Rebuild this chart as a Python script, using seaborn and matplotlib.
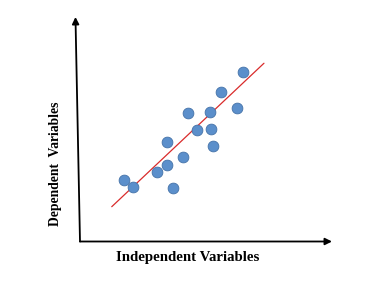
import matplotlib
matplotlib.use("Agg")
import matplotlib.pyplot as plt
import seaborn as sns
import pandas as pd

# Data (arbitrary units)
x_vals = [1.75, 2.12, 3.07, 3.46, 3.46, 3.70, 4.10, 4.29, 4.65, 5.17, 5.21, 5.29, 5.61, 6.23, 6.47]
y_vals = [2.74, 2.41, 3.08, 3.39, 4.42, 2.38, 3.76, 5.71, 4.95, 5.76, 5.00, 4.24, 6.66, 5.95, 7.54]
fit_x = [1.26, 7.30]
fit_y = [1.55, 7.94]
x_label = "Independent Variables"
y_label = "Dependent  Variables"

df = pd.DataFrame({"x": x_vals, "y": y_vals})
fit = pd.DataFrame({"x": fit_x, "y": fit_y})

sns.set_style("white")
plt.rcParams["font.family"] = ["Liberation Serif", "DejaVu Serif"]
plt.rcParams["text.color"] = "black"

fig = plt.figure(figsize=(3.92, 2.90), dpi=100)
W, H = 392, 290
ox, oy = 80, 241.5
ax = fig.add_axes([ox / W, (H - oy) / H, (332 - ox) / W, (oy - 17) / H])
ax.set_xlim(0, 10)
ax.set_ylim(0, 10)

sns.lineplot(data=fit, x="x", y="y", ax=ax, color="#D92B2B", linewidth=0.9)
sns.scatterplot(data=df, x="x", y="y", ax=ax, s=60, color="#5B8FCB",
                edgecolor="#4472A8", linewidth=0.6, zorder=3)

for s in ax.spines.values():
    s.set_visible(False)
ax.set_xticks([])
ax.set_yticks([])
ax.set_xlabel("")
ax.set_ylabel("")

# axis arrows
ax.annotate("", xy=(1.0, 0.0), xytext=(0.0, 0.0), xycoords="axes fraction",
            arrowprops=dict(arrowstyle="-|>", color="black", lw=1.3,
                            mutation_scale=10, shrinkA=0, shrinkB=0))
ax.annotate("", xy=(-0.018, 1.0), xytext=(0.0, 0.0), xycoords="axes fraction",
            arrowprops=dict(arrowstyle="-|>", color="black", lw=1.3,
                            mutation_scale=10, shrinkA=0, shrinkB=0))

fig.text(188 / W, 1 - 257.5 / H, x_label, ha="center", va="center",
         fontsize=10.7, fontweight="bold", color="black")
fig.text(56 / W, 1 - 164 / H, y_label, ha="center", va="center",
         fontsize=9.8, fontweight="bold", rotation=90, color="black")

fig.savefig("out.png", dpi=100)
